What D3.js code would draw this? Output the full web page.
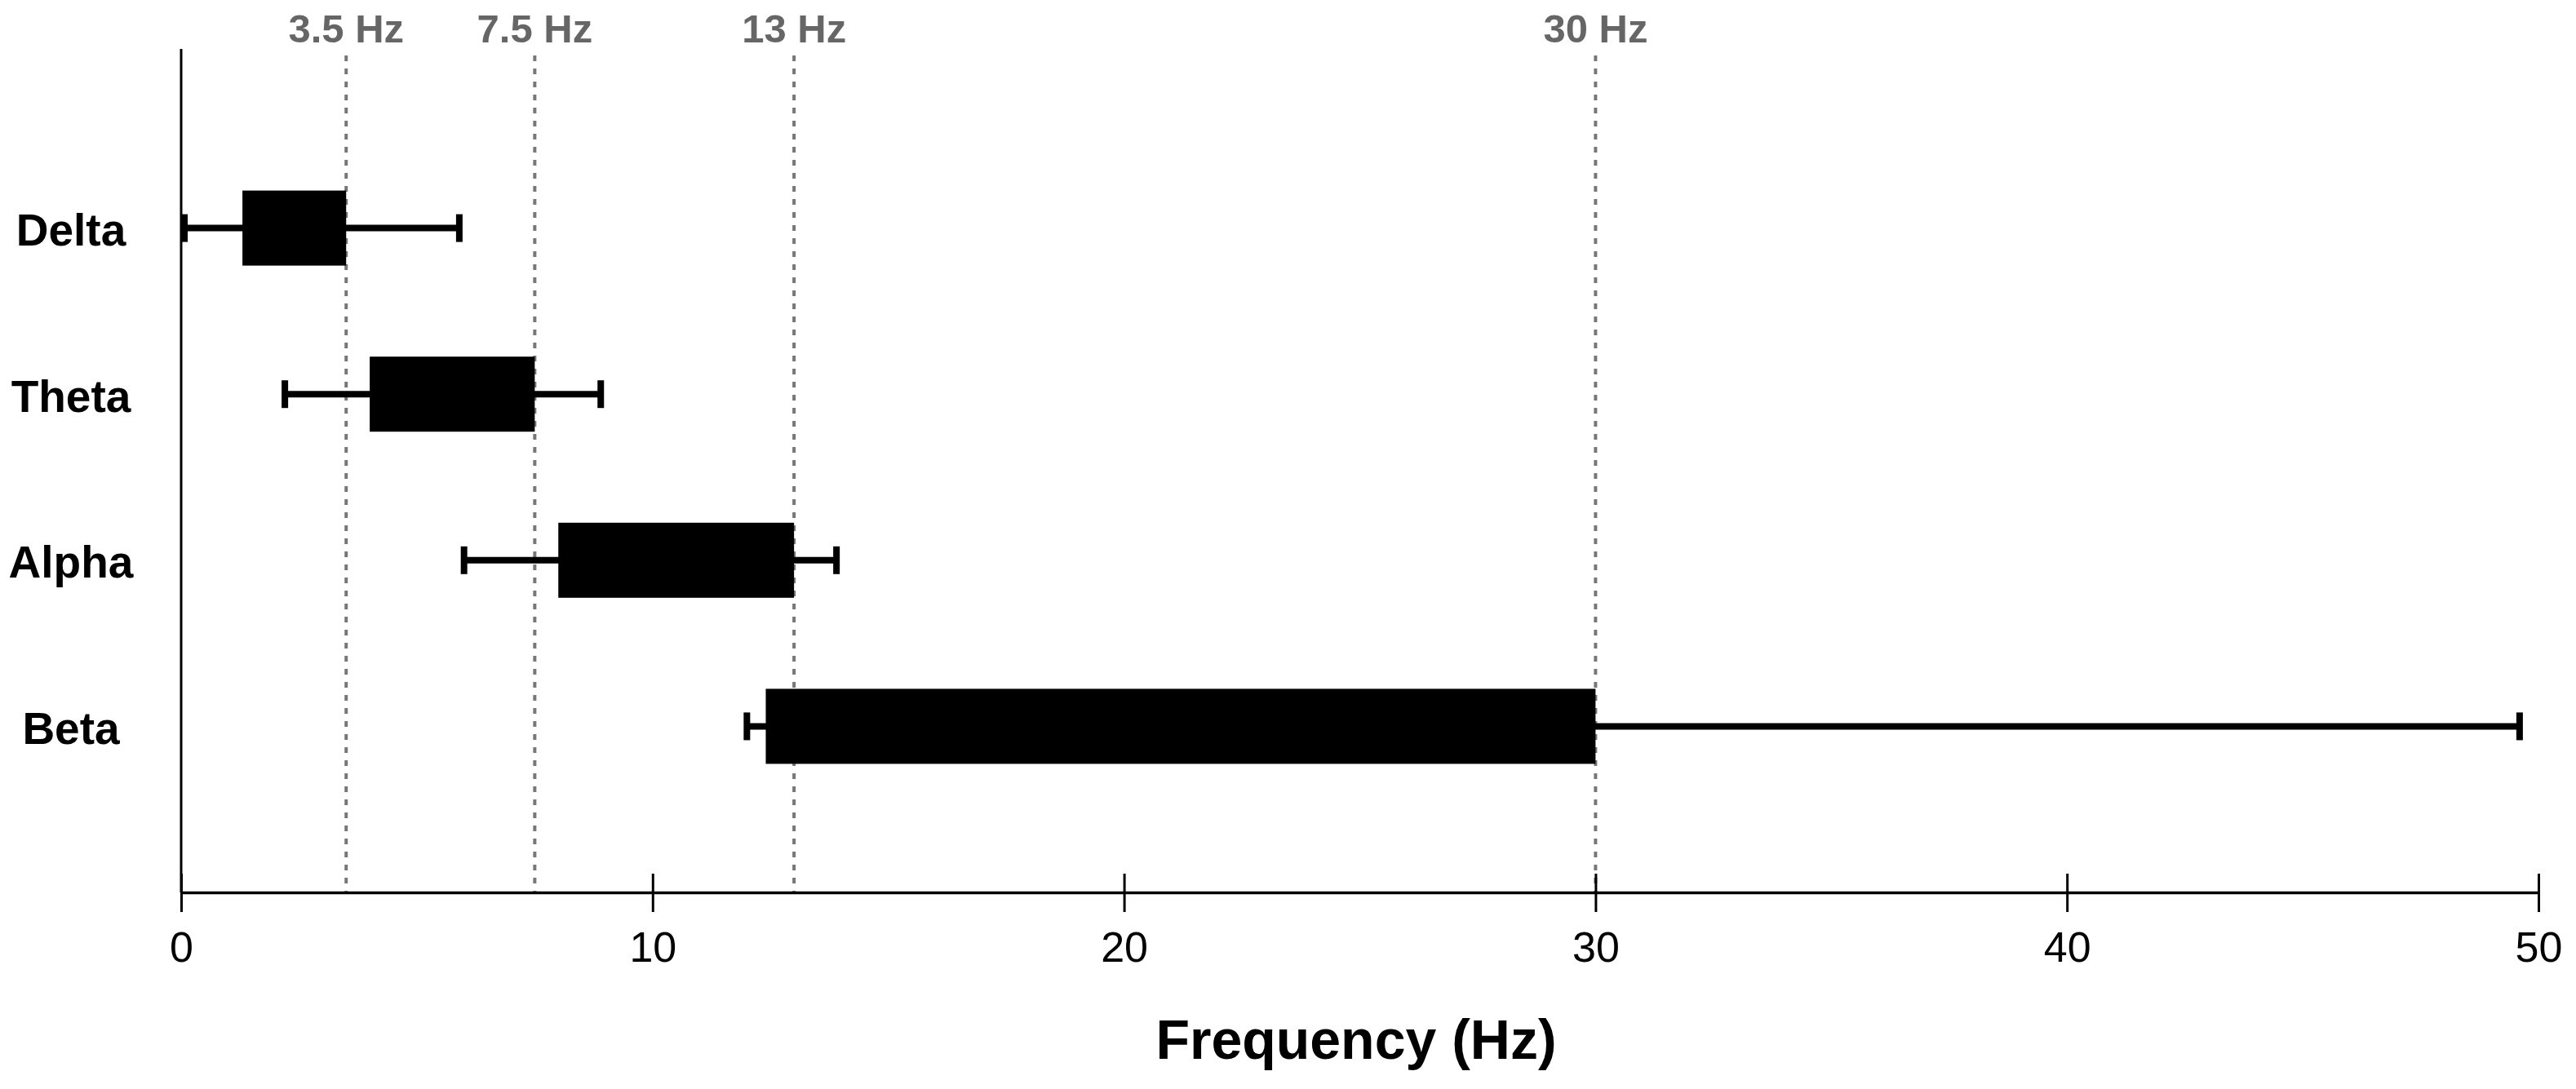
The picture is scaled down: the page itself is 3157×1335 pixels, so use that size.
<!DOCTYPE html>
<html>
<head>
<meta charset="utf-8">
<script src="https://cdn.jsdelivr.net/npm/d3@7"></script>
<style>
  body { margin: 0; background: #fff; }
  text { font-family: "Liberation Sans", Arial, Helvetica, sans-serif; }
</style>
</head>
<body>
<script>
// Frequency bands and their ranges (Hz)
var bands = ["Delta", "Theta", "Alpha", "Beta"];
var boxLow = [1.3, 4, 8, 12.4];
var boxHigh = [3.5, 7.5, 13, 30];
var whiskerLow = [0.07, 2.2, 6.0, 12.0];
var whiskerHigh = [5.9, 8.9, 13.9, 49.6];

// Cutoff lines and their labels
var cutoffs = [3.5, 7.5, 13, 30];
var cutoffLabels = ["3.5 Hz", "7.5 Hz", "13 Hz", "30 Hz"];

// X axis ticks
var xTicks = [0, 10, 20, 30, 40, 50];

var data = bands.map(function (b, i) {
    return { band: b, lo: boxLow[i], hi: boxHigh[i], wlo: whiskerLow[i], whi: whiskerHigh[i] };
});

var W = 3157, H = 1335;
var plotTop = 60, plotBottom = 1094;

// Set the ranges
var x = d3.scaleLinear().domain([0, 50]).range([222, 3111]);
var y = d3.scalePoint().domain(bands).range([76, plotBottom]).padding(1);

var svg = d3.select("body")
    .append("svg")
    .attr("width", W)
    .attr("height", H);

// Dashed cutoff lines
svg.selectAll(".cutoff")
    .data(cutoffs)
    .enter()
    .append("line")
    .attr("class", "cutoff")
    .attr("x1", function (d) { return x(d); })
    .attr("x2", function (d) { return x(d); })
    .attr("y1", 68)
    .attr("y2", plotBottom)
    .style("stroke", "#777")
    .style("stroke-width", 4)
    .style("stroke-dasharray", "7,9");

// Cutoff labels
svg.selectAll(".cutoffLabel")
    .data(cutoffs)
    .enter()
    .append("text")
    .attr("class", "cutoffLabel")
    .attr("x", function (d) { return x(d); })
    .attr("y", 52)
    .style("text-anchor", "middle")
    .style("font-size", "49px")
    .style("font-weight", "bold")
    .style("fill", "#666")
    .text(function (d, i) { return cutoffLabels[i]; });

// Whiskers
var wh = svg.selectAll(".whisker")
    .data(data)
    .enter()
    .append("g")
    .attr("class", "whisker")
    .style("stroke", "#000")
    .style("stroke-width", 8);

wh.append("line")
    .attr("x1", function (d) { return x(d.wlo); })
    .attr("x2", function (d) { return x(d.whi); })
    .attr("y1", function (d) { return y(d.band); })
    .attr("y2", function (d) { return y(d.band); });

wh.append("line")
    .attr("x1", function (d) { return x(d.wlo); })
    .attr("x2", function (d) { return x(d.wlo); })
    .attr("y1", function (d) { return y(d.band) - 17; })
    .attr("y2", function (d) { return y(d.band) + 17; });

wh.append("line")
    .attr("x1", function (d) { return x(d.whi); })
    .attr("x2", function (d) { return x(d.whi); })
    .attr("y1", function (d) { return y(d.band) - 17; })
    .attr("y2", function (d) { return y(d.band) + 17; });

// Boxes
var barH = 92;
svg.selectAll(".box")
    .data(data)
    .enter()
    .append("rect")
    .attr("class", "box")
    .attr("x", function (d) { return x(d.lo); })
    .attr("width", function (d) { return x(d.hi) - x(d.lo); })
    .attr("y", function (d) { return y(d.band) - barH / 2; })
    .attr("height", barH)
    .style("fill", "#000");

// Band labels
svg.selectAll(".bandLabel")
    .data(bands)
    .enter()
    .append("text")
    .attr("class", "bandLabel")
    .attr("x", 87)
    .attr("y", function (d) { return y(d); })
    .attr("dy", "0.39em")
    .style("text-anchor", "middle")
    .style("font-size", "55px")
    .style("font-weight", "bold")
    .text(function (d) { return d; });

// Y axis line
svg.append("line")
    .attr("x1", x(0))
    .attr("x2", x(0))
    .attr("y1", plotTop)
    .attr("y2", plotBottom)
    .style("stroke", "#000")
    .style("stroke-width", 3);

// X axis
var xAxis = d3.axisBottom(x)
    .tickValues(xTicks)
    .tickSizeInner(24)
    .tickSizeOuter(0)
    .tickPadding(24);

var gx = svg.append("g")
    .attr("class", "x axis")
    .attr("transform", "translate(0," + plotBottom + ")")
    .call(xAxis);

gx.select(".domain")
    .style("stroke", "#000")
    .style("stroke-width", 3.5);

gx.selectAll(".tick line")
    .attr("y1", -23)
    .style("stroke", "#000")
    .style("stroke-width", 3);

gx.selectAll(".tick text")
    .style("font-size", "52px")
    .style("font-family", "'Liberation Sans', Arial, sans-serif")
    .style("fill", "#000");

// X axis title
svg.append("text")
    .attr("x", 1662)
    .attr("y", 1298)
    .style("text-anchor", "middle")
    .style("font-size", "68px")
    .style("font-weight", "bold")
    .text("Frequency (Hz)");
</script>
</body>
</html>
